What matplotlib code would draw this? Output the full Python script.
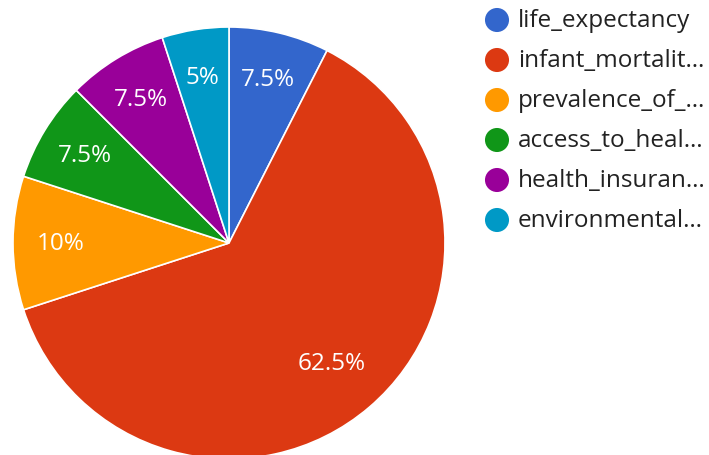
"""
plot.py

Pie chart of health indicator weights with a Google-style legend on the right.
"""

import numpy as np
import matplotlib.pyplot as plt

# ============================================================
# Data
# ============================================================
labels = [
    "life_expectancy",
    "infant_mortalit\u2026",
    "prevalence_of_\u2026",
    "access_to_heal\u2026",
    "health_insuran\u2026",
    "environmental\u2026",
]
shares = [7.5, 62.5, 10, 7.5, 7.5, 5]
pct_text = ["7.5%", "62.5%", "10%", "7.5%", "7.5%", "5%"]
colors = ["#3366cc", "#dc3912", "#ff9900", "#109618", "#990099", "#0099c6"]

plt.rcParams["font.family"] = ["Open Sans", "DejaVu Sans"]

W, H = 709, 456
fig = plt.figure(figsize=(W / 100, H / 100), dpi=100)

# pie axes: centre (229, 244) px, radius 216 px
cx, cy, r = 229, 244, 216
ax = fig.add_axes([(cx - r) / W, (H - cy - r) / H, 2 * r / W, 2 * r / H])
wedges, _ = ax.pie(
    shares, colors=colors, startangle=90, counterclock=False,
    wedgeprops=dict(edgecolor="white", linewidth=1.2),
)
ax.set_xlim(-1, 1)
ax.set_ylim(-1, 1)
ax.set_aspect("equal")
ax.axis("off")

# percentage labels, the big slice sits a bit closer to the centre
for w, txt, share in zip(wedges, pct_text, shares):
    mid = np.deg2rad((w.theta1 + w.theta2) / 2)
    d = 0.73 if share > 50 else 0.78
    ax.text(d * np.cos(mid), d * np.sin(mid), txt, color="white",
            fontsize=17.5, ha="center", va="center")

# legend drawn in pixel space
lax = fig.add_axes([0, 0, 1, 1])
lax.set_xlim(0, W)
lax.set_ylim(H, 0)
lax.axis("off")
y0, dy = 21, 40
for i, (lab, col) in enumerate(zip(labels, colors)):
    y = y0 + i * dy
    lax.scatter(497, y, s=300, color=col, edgecolors="none")
    lax.text(518, y, lab, fontsize=17.5, color="#222222", va="center", ha="left")

fig.savefig("out.png", dpi=100)
